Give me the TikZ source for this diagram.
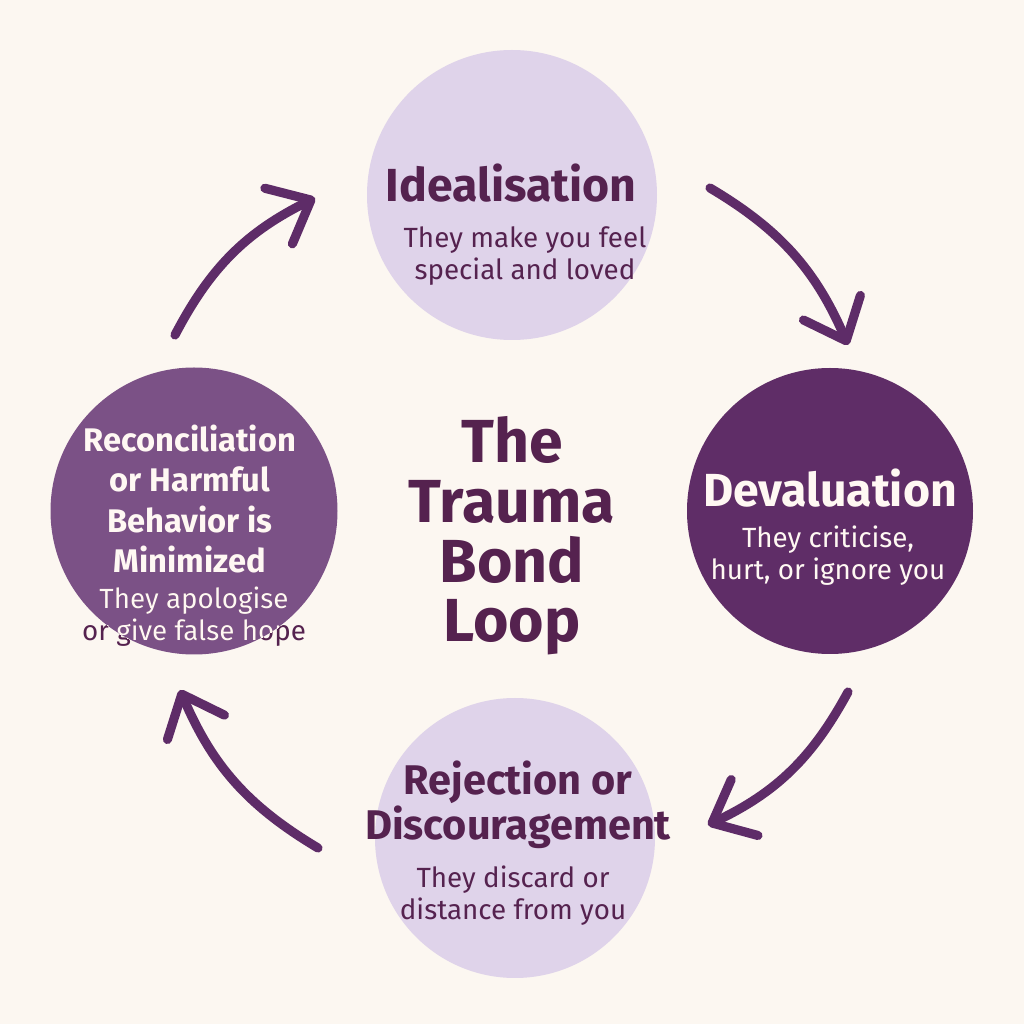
\documentclass[tikz,border=0pt]{standalone}
\usepackage{fontspec}
\setmainfont{Fira Sans}
\usepackage{xcolor}
\usepackage{tikz}
\definecolor{loopCream}{HTML}{FCF7F1}
\definecolor{loopLilac}{HTML}{DFD3EA}
\definecolor{loopPlum}{HTML}{5F2D67}
\definecolor{loopMauve}{HTML}{7B5186}
\definecolor{loopInk}{HTML}{55224F}
\definecolor{loopArrow}{HTML}{5E2C68}
\definecolor{loopWhite}{HTML}{FFF8F3}
\usetikzlibrary{arrows.meta,positioning}

\begin{document}
\begin{tikzpicture}[
  stage/.style={circle, inner sep=0pt, draw=none},
  head/.style={font=\fontsize{13.2}{14}\selectfont\bfseries, align=center, text=loopInk},
  note/.style={font=\fontsize{7.9}{9.1}\selectfont, align=center, text=loopInk},
  cycle/.style={line width=2.6pt, loopArrow, line cap=round, -{Straight Barb[length=3.6mm, width=6.2mm, round]}}
]
\useasboundingbox[fill=loopCream] (0,0) rectangle (10.24,10.24);

% Stage circles
\node[stage, fill=loopLilac, minimum size=2.90cm] (ideal) at (5.12,8.29) {};
\node[stage, fill=loopPlum, minimum size=2.86cm] (deval) at (8.30,5.13) {};
\node[stage, fill=loopLilac, minimum size=2.80cm] (reject) at (5.15,1.86) {};
\node[stage, fill=loopMauve, minimum size=2.87cm] (recon) at (1.94,5.13) {};

% Stage texts
\node[head] (idealHead) at (5.11,8.41) {Idealisation};
\node[note] (idealNote) at (5.25,7.68) {They make you feel\\special and loved};
\node[head, text=loopWhite] (devalHead) at (8.30,5.36) {Devaluation};
\node[note, text=loopWhite] (devalNote) at (8.28,4.68) {They criticise,\\hurt, or ignore you};
\node[head, font=\fontsize{11.8}{12.8}\selectfont\bfseries] (rejectHead) at (5.18,2.19) {Rejection or\\Discouragement};
\node[note] (rejectNote) at (5.13,1.28) {They discard or\\distance from you};
\node[head, text=loopWhite, font=\fontsize{9.3}{11.4}\selectfont\bfseries] (reconHead) at (1.90,5.25) {Reconciliation\\or Harmful\\Behavior is\\Minimized};

% Note runs past the circle edge: ink outside, white inside
\node[note] (reconNote) at (1.94,4.07) {They apologise\\or give false hope};
\begin{scope}
  \clip (recon.center) circle (1.435);
  \node[note, text=loopWhite] (reconNoteIn) at (1.94,4.07) {They apologise\\or give false hope};
\end{scope}

% Centre title
\node[head, font=\fontsize{17.3}{17}\selectfont\bfseries] (hub) at (5.12,4.88) {The\\Trauma\\Bond\\Loop};

% Cycle arrows
\coordinate (a1s) at (1.75,6.89);
\coordinate (a1e) at (3.15,8.26);
\coordinate (a2s) at (7.10,8.36);
\coordinate (a2e) at (8.48,6.79);
\coordinate (a3s) at (8.48,3.32);
\coordinate (a3e) at (7.08,1.99);
\coordinate (a4s) at (3.18,1.76);
\coordinate (a4e) at (1.80,3.34);

\draw[cycle] (a1s) to[bend left=18] (a1e);
\draw[cycle] (a2s) to[bend left=18] (a2e);
\draw[cycle] (a3s) to[bend left=18] (a3e);
\draw[cycle] (a4s) to[bend left=18] (a4e);

\end{tikzpicture}
\end{document}
